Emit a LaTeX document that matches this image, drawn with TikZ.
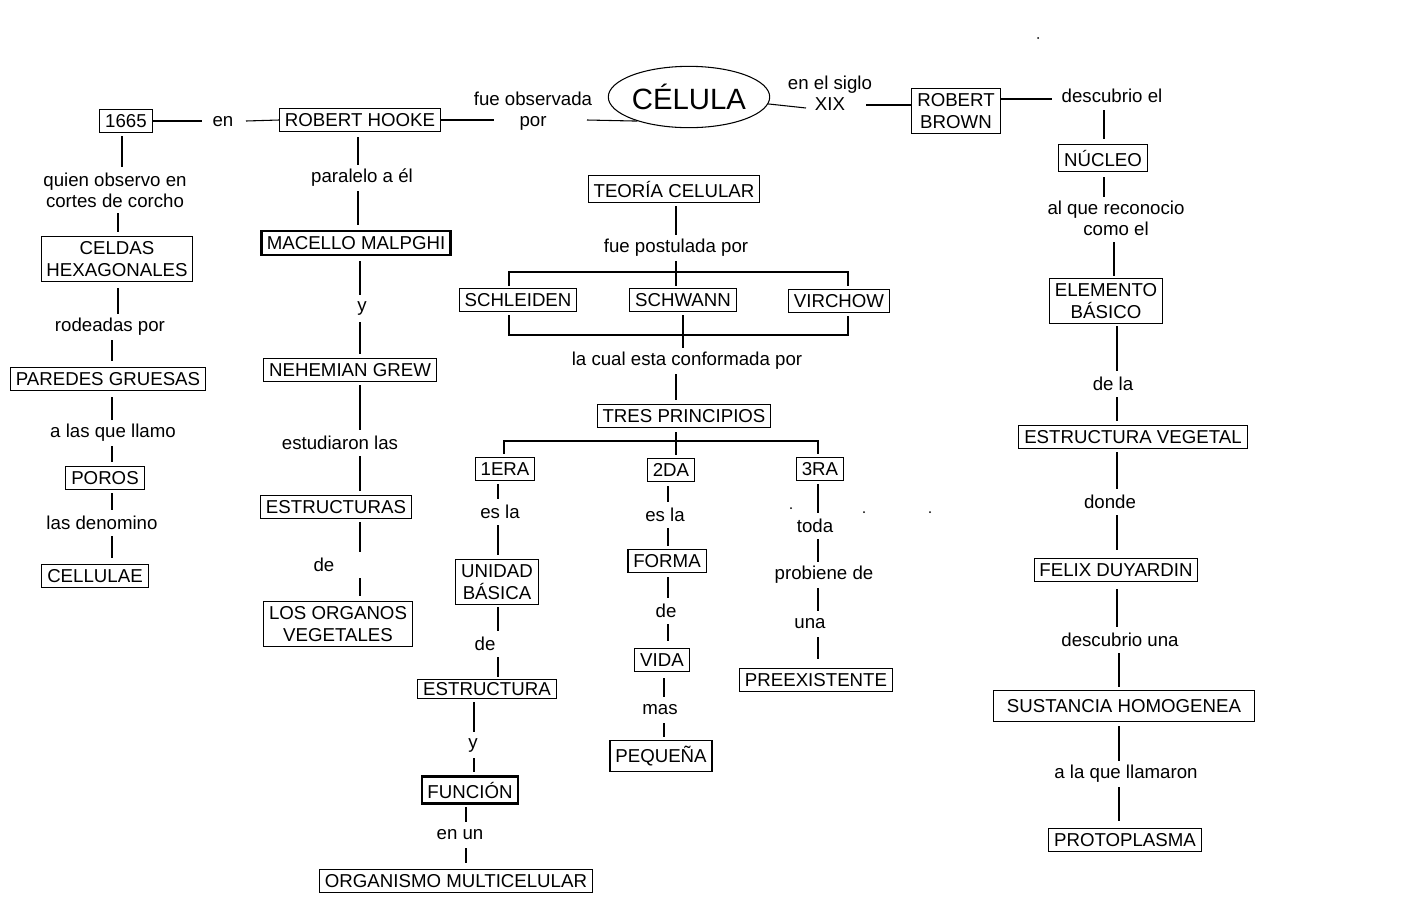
\documentclass[tikz,border=0pt]{standalone}
\usepackage{fontspec}
\setmainfont{Liberation Sans}
\usetikzlibrary{shapes.geometric}
\begin{document}
\begin{tikzpicture}[x=0.75pt,y=-0.75pt,line width=0.8pt,
  bx/.style={draw,font=\fontsize{14}{16}\selectfont,inner xsep=4pt,inner ysep=4pt,align=center},
  tb/.style={bx,line width=1.6pt},
  lb/.style={font=\fontsize{14}{16}\selectfont,inner sep=1pt,align=center}]
\useasboundingbox (0,0) rectangle (1415,904);
% top row
\node[bx] (n1665) at (126,121) {1665};
\node[lb] (en) at (223,122) {en};
\node[bx] (hooke) at (360,120) {ROBERT HOOKE};
\node[lb] (obs) at (533,111) {fue observada\\por};
\node[draw,ellipse,minimum width=90pt,minimum height=46pt,font=\fontsize{22}{24}\selectfont,inner sep=0pt] (cel) at (689,97) {CÉLULA};
\node[lb] (siglo) at (830,93) {en el siglo\\XIX};
\node[bx] (brown) at (956,111) {ROBERT\\BROWN};
\node[lb] (desc) at (1112,96) {descubrio el};
\coordinate (a1) at (202,121); \coordinate (a2) at (246,121);
\coordinate (a3) at (494,120); \coordinate (a4) at (587,120);
\coordinate (a5) at (806,108); \coordinate (a6) at (866,105);
\coordinate (a7) at (1052,99);
\draw (n1665.east) -- (a1);
\draw (a2) -- (hooke.west);
\draw (hooke.east) -- (a3);
\draw (a4) -- (cel.205);
\draw (cel.-5) -- (a5);
\draw (a6) -- (brown.west |- a6);
\draw (brown.east |- a7) -- (a7);
% right column
\node[bx] (nuc) at (1103,158) {NÚCLEO};
\node[lb] (reco) at (1116,218) {al que reconocio\\como el};
\node[bx] (elem) at (1106,301) {ELEMENTO\\ BÁSICO};
\node[lb] (dela) at (1113,384) {de la};
\node[bx] (estv) at (1133,437) {ESTRUCTURA VEGETAL};
\node[lb] (donde) at (1110,502) {donde};
\node[bx] (felix) at (1116,570) {FELIX DUYARDIN};
\node[lb] (desc2) at (1120,640) {descubrio una};
\node[bx,inner ysep=7pt,inner xsep=10pt] (sust) at (1124,706) {SUSTANCIA HOMOGENEA};
\node[lb] (llam) at (1126,774) {a la que llamaron};
\node[bx] (proto) at (1125,840) {PROTOPLASMA};
\draw (1104,110) -- (1104,139);
\draw (1104,177) -- (1104,197); \draw (1114,242) -- (1114,276);
\draw (1117,326) -- (1117,371); \draw (1117,397) -- (1117,421);
\draw (1117,452) -- (1117,489); \draw (1117,515) -- (1117,550);
\draw (1117,589) -- (1117,627); \draw (1119,653) -- (1119,687);
\draw (1119,726) -- (1119,761); \draw (1119,787) -- (1119,821);
% left column
\node[lb] (quien) at (115,190) {quien observo en\\cortes de corcho};
\node[bx] (celdas) at (117,259) {CELDAS\\HEXAGONALES};
\node[lb] (rod) at (110,327) {rodeadas por};
\node[bx] (paredes) at (108,379) {PAREDES GRUESAS};
\node[lb] (llamo) at (113,433) {a las que llamo};
\node[bx] (poros) at (105,478) {POROS};
\node[lb] (denom) at (102,523) {las denomino};
\node[bx] (cellulae) at (95,576) {CELLULAE};
\draw (122,136) -- (122,167); \draw (118,213) -- (118,232);
\draw (118,288) -- (118,314); \draw (112,340) -- (112,361);
\draw (112,397) -- (112,420); \draw (112,446) -- (112,462);
\draw (112,493) -- (112,510); \draw (112,536) -- (112,558);
% second column
\node[lb] (para) at (362,178) {paralelo a él};
\node[tb] (macello) at (356,243) {MACELLO MALPGHI};
\node[lb] (y1) at (362,308) {y};
\node[bx] (nehe) at (350,370) {NEHEMIAN GREW};
\node[lb] (estu) at (340,443) {estudiaron las};
\node[bx] (estr) at (336,507) {ESTRUCTURAS};
\node[lb] (de1) at (324,565) {de};
\node[bx] (organos) at (338,624) {LOS ORGANOS\\VEGETALES};
\draw (358,137) -- (358,165); \draw (358,191) -- (358,225);
\draw (360,261) -- (360,295); \draw (360,322) -- (360,354);
\draw (360,385) -- (360,430); \draw (360,456) -- (360,491);
\draw (360,522) -- (360,552); \draw (360,578) -- (360,596);
% center
\node[bx] (teoria) at (674,189) {TEORÍA CELULAR};
\node[lb] (post) at (676,248) {fue postulada por};
\node[bx] (schl) at (518,300) {SCHLEIDEN};
\node[bx] (schw) at (683,300) {SCHWANN};
\node[bx] (vir) at (839,301) {VIRCHOW};
\node[lb] (conf) at (687,361) {la cual esta conformada por};
\node[bx] (tres) at (684,416) {TRES PRINCIPIOS};
\draw (676,206) -- (676,235);
\draw (676,261) -- (676,286);
\draw (509,286) -- (509,272) -- (848,272) -- (848,286);
\draw (509,315) -- (509,335) -- (848,335) -- (848,316);
\draw (683,315) -- (683,348);
\draw (676,374) -- (676,400);
\draw (676,432) -- (676,441);
\draw (504,454) -- (504,441) -- (818,441) -- (818,454);
\draw (676,441) -- (676,455);
\node[bx] (p1) at (505,469) {1ERA};
\node[bx] (p2) at (671,470) {2DA};
\node[bx] (p3) at (820,469) {3RA};
% 1ERA chain
\node[lb] (esla1) at (500,512) {es la};
\node[bx] (unidad) at (497,582) {UNIDAD\\BÁSICA};
\node[lb] (de2) at (485,644) {de};
\node[bx,inner ysep=2pt] (estr2) at (487,689) {ESTRUCTURA};
\node[lb] (y2) at (473,745) {y};
\node[tb] (func) at (470,790) {FUNCIÓN};
\node[lb] (enun) at (460,835) {en un};
\node[bx] (org) at (456,881) {ORGANISMO MULTICELULAR};
\draw (498,484) -- (498,499); \draw (498,525) -- (498,555);
\draw (498,607) -- (498,631); \draw (498,657) -- (498,677);
\draw (474,702) -- (474,732); \draw (474,758) -- (474,772);
\draw (466,807) -- (466,822); \draw (466,848) -- (466,863);
% 2DA chain
\node[lb] (esla2) at (665,515) {es la};
\node[bx] (forma) at (667,561) {FORMA};
\node[lb] (de3) at (666,611) {de};
\node[bx] (vida) at (662,660) {VIDA};
\node[lb] (mas) at (660,710) {mas};
\node[bx] (peq) at (661,756) {PEQUEÑA};
\draw (668,486) -- (668,502); \draw (668,528) -- (668,546);
\draw (668,577) -- (668,598); \draw (668,624) -- (668,641);
\draw (664,678) -- (664,697); \draw (664,723) -- (664,737);
% 3RA chain
\node[lb] (toda) at (815,526) {toda};
\node[lb] (prob) at (824,575) {probiene de};
\node[lb] (una) at (810,624) {una};
\node[bx] (pre) at (816,680) {PREEXISTENTE};
\draw (818,484) -- (818,513); \draw (818,539) -- (818,562);
\draw (818,588) -- (818,611); \draw (818,637) -- (818,659);
% dots
\fill (1038,38) circle (1); \fill (791,508) circle (1);
\fill (864,512) circle (1); \fill (930,512) circle (1);
\end{tikzpicture}
\end{document}
